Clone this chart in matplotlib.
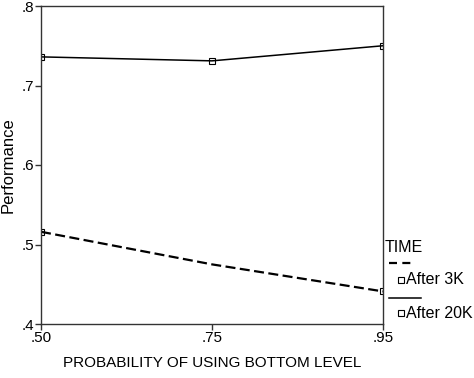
import matplotlib
matplotlib.use('Agg')
import matplotlib.pyplot as plt
from matplotlib.lines import Line2D

categories = ['.50', '.75', '.95']
after_3k = [0.516, 0.475, 0.441]
after_20k = [0.736, 0.731, 0.750]
y_ticks = [0.4, 0.5, 0.6, 0.7, 0.8]
y_labels = ['.4', '.5', '.6', '.7', '.8']

plt.rcParams['font.family'] = ['Liberation Sans', 'DejaVu Sans']

fig = plt.figure(figsize=(4.74, 3.78), dpi=100)
ax = fig.add_axes([41 / 474, 1 - 324 / 378, (383 - 41) / 474, (324 - 6) / 378])

dash = (0, (4.5, 2))
x = list(range(len(categories)))
ax.plot(x, after_3k, color='black', linestyle=dash, linewidth=1.6,
        marker='s', markersize=5, markerfacecolor='none', markeredgewidth=0.8,
        markevery=[0, 2])
ax.plot(x, after_20k, color='black', linestyle='-', linewidth=1.1,
        marker='s', markersize=5, markerfacecolor='none', markeredgewidth=0.8)

ax.set_xlim(0, 2)
ax.set_ylim(0.4, 0.8)
ax.set_xticks(x)
ax.set_xticklabels(categories)
ax.set_yticks(y_ticks)
ax.set_yticklabels(y_labels)
for sp in ax.spines.values():
    sp.set_linewidth(1.0)
    sp.set_color('#333333')
ax.tick_params(axis='both', direction='out', length=4, width=1, labelsize=11,
               color='#333333', pad=1)

ax.set_xlabel('PROBABILITY OF USING BOTTOM LEVEL', fontsize=11, labelpad=8)
ax.set_ylabel('Performance', fontsize=12, labelpad=4)

# legend drawn outside the right edge, SPSS style
fig.text(385 / 474, 1 - 248 / 378, 'TIME', fontsize=11.5, va='center', ha='left')
fig.add_artist(Line2D([389 / 474, 411 / 474], [1 - 263 / 378] * 2, color='black',
                      linestyle=(0, (3.6, 2.4)), linewidth=1.6, transform=fig.transFigure))
fig.add_artist(Line2D([401 / 474], [1 - 280 / 378], marker='s', markersize=4.5,
                      markerfacecolor='none', markeredgecolor='black', markeredgewidth=0.8,
                      linestyle='none', transform=fig.transFigure))
fig.text(406 / 474, 1 - 280 / 378, 'After 3K', fontsize=11.5, va='center', ha='left')
fig.add_artist(Line2D([389 / 474, 421 / 474], [1 - 298 / 378] * 2, color='black',
                      linewidth=1.1, transform=fig.transFigure))
fig.add_artist(Line2D([401 / 474], [1 - 313 / 378], marker='s', markersize=4.5,
                      markerfacecolor='none', markeredgecolor='black', markeredgewidth=0.8,
                      linestyle='none', transform=fig.transFigure))
fig.text(406 / 474, 1 - 313 / 378, 'After 20K', fontsize=11.5, va='center', ha='left')

fig.savefig('out.png', dpi=100)
